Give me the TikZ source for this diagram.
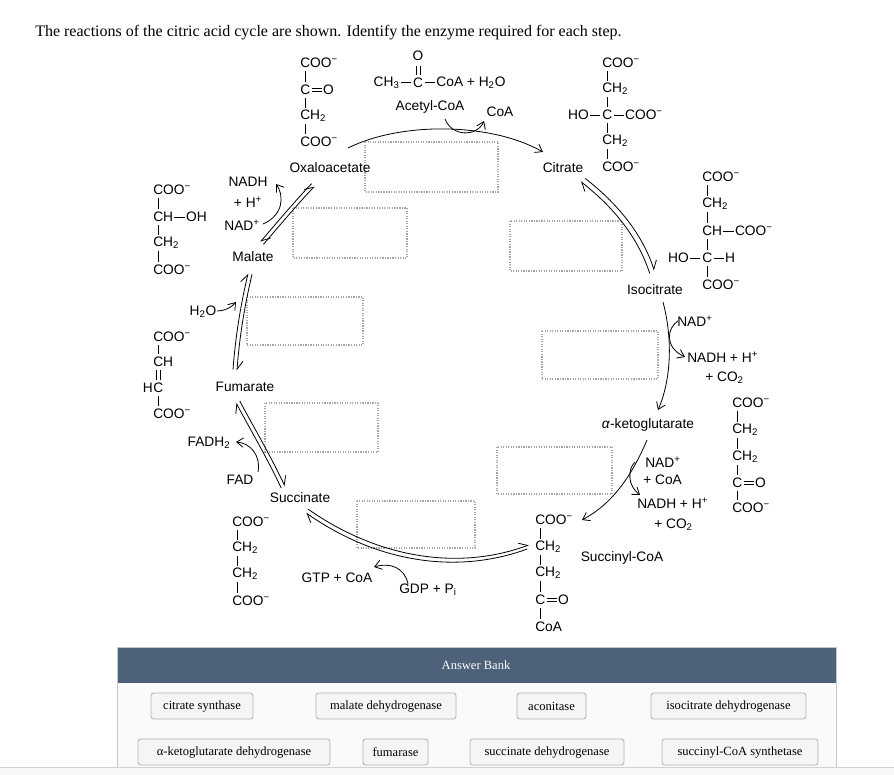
\documentclass[tikz,border=0pt]{standalone}
\usepackage{fontspec}
\setmainfont{Liberation Serif}
\newfontfamily\arialf{Liberation Sans}
\usetikzlibrary{arrows.meta}
\newcommand\hb{\kern1pt\rule[0.32em]{0.75em}{0.45pt}\kern1pt}
\newcommand\dbb{\kern1pt\rlap{\rule[0.22em]{0.75em}{0.45pt}}\rule[0.45em]{0.75em}{0.45pt}\kern1pt}
\newcommand\mn{\textsuperscript{−}}
\newcommand\vchain[2]{\foreach \a/\b in {#2} {\draw[bond] ({#1+5},{\a+8})--({#1+5},{\b-8});}}
\newcommand\eqpair[6]{%
  \draw[eqline,-{Straight Barb[left,length=6pt,width=8pt]},shift={(#5,#6)}] #1 .. controls #2 and #3 .. #4;
  \draw[eqline,{Straight Barb[left,length=6pt,width=8pt]}-,shift={(-#5,-#6)}] #1 .. controls #2 and #3 .. #4;}
\begin{document}
\begin{tikzpicture}[x=0.75pt,y=-0.75pt,
  chem/.style={font=\arialf\fontsize{10.3}{12}\selectfont, inner sep=0pt, anchor=west},
  lab/.style={font=\arialf\fontsize{10.3}{12}\selectfont, inner sep=0pt},
  bond/.style={line width=0.45pt},
  arr/.style={line width=0.6pt,-{Straight Barb[length=5pt,width=7pt]}},
  eqline/.style={line width=0.6pt},
  blank/.style={draw=gray!70, densely dotted, line width=0.9pt},
  btn/.style={draw=gray!60, rounded corners=2pt, fill=gray!8, line width=0.6pt},
  btnt/.style={font=\fontsize{9.4}{11}\selectfont, inner sep=0pt}]
\fill[white] (0,0) rectangle (894,775);
\useasboundingbox (0,0) rectangle (894,775);
\node[anchor=west, inner sep=0pt, font=\fontsize{12}{14}\selectfont] (title) at (35,33) {The reactions of the citric acid cycle are shown. Identify the enzyme required for each step.};
% blanks
\draw[blank] (365,142) rectangle (498,192);
\draw[blank] (293,208) rectangle (407,258);
\draw[blank] (247,297) rectangle (363,345);
\draw[blank] (265,403) rectangle (378,452);
\draw[blank] (357,501) rectangle (475,548);
\draw[blank] (497,447) rectangle (612,494);
\draw[blank] (542,331) rectangle (658,379);
\draw[blank] (510,221) rectangle (622,271);
% oxaloacetate
\node[chem] (o1) at (300,63) {COO\mn};
\node[chem] (o2) at (300,90) {C\dbb O};
\node[chem] (o3) at (300,116) {CH\textsubscript{2}};
\node[chem] (o4) at (300,142) {COO\mn};
\vchain{300}{63/90,90/116,116/142}
\node[lab] (oxa) at (330,168) {Oxaloacetate};
% acetyl-CoA
\node[lab] (acC) at (418,83) {C};
\node[chem,anchor=east] at (acC.west) {CH\textsubscript{3}\hb};
\node[chem] at (acC.east) {\hb CoA + H\textsubscript{2}O};
\draw[bond] (416.5,66) -- (416.5,75) (420,66) -- (420,75);
\node[lab] (acO) at (418,56) {O};
\node[lab] (acetyl) at (430,107) {Acetyl-CoA};
\node[lab] (coa1) at (500,112) {CoA};
\draw[arr] (445,119) .. controls (452,137) and (477,137) .. (484,121);
\draw[arr] (348,148) .. controls (400,122) and (490,122) .. (543,152);
% citrate
\node[chem] at (602,63) {COO\mn};
\node[chem] at (602,89) {CH\textsubscript{2}};
\node[chem] (cC) at (602,115) {C\hb COO\mn};
\node[chem,anchor=east] at (602,115) {HO\hb};
\node[chem] at (602,141) {CH\textsubscript{2}};
\node[chem] at (602,167) {COO\mn};
\vchain{602}{63/89,89/115,115/141,141/167}
\node[lab] (cit) at (563,168) {Citrate};
% isocitrate
\node[chem] at (702,177) {COO\mn};
\node[chem] at (702,204) {CH\textsubscript{2}};
\node[chem] at (702,231) {CH\hb COO\mn};
\node[chem] at (702,258) {C\hb H};
\node[chem,anchor=east] at (702,258) {HO\hb};
\node[chem] at (702,285) {COO\mn};
\vchain{702}{177/204,204/231,231/258,258/285}
\node[lab] (iso) at (655,290) {Isocitrate};
\eqpair{(583,180)}{(615,205)}{(640,235)}{(652,272)}{2.2}{-1.6}
% isocitrate -> akg
\draw[arr] (663,302) .. controls (673,340) and (671,380) .. (658,410);
\node[chem] at (677,321) {NAD\textsuperscript{+}};
\draw[arr] (678,321) .. controls (667,328) and (664,347) .. (685,357);
\node[chem] at (687,357) {NADH + H\textsuperscript{+}};
\node[chem] at (705,378) {+ CO\textsubscript{2}};
% akg
\node[lab] (akg) at (648,425) {\textit{α}-ketoglutarate};
\node[chem] at (732,403) {COO\mn};
\node[chem] at (732,430) {CH\textsubscript{2}};
\node[chem] at (732,457) {CH\textsubscript{2}};
\node[chem] at (732,483) {C\dbb O};
\node[chem] at (732,508) {COO\mn};
\vchain{732}{403/430,430/457,457/483,483/508}
\draw[arr] (647,440) .. controls (630,480) and (610,505) .. (582,520);
\node[chem] at (645,462) {NAD\textsuperscript{+}};
\node[chem] at (643,480) {+ CoA};
\draw[arr] (635,462) .. controls (627,470) and (628,486) .. (640,495);
\node[chem] at (637,503) {NADH + H\textsuperscript{+}};
\node[chem] at (654,525) {+ CO\textsubscript{2}};
% succinyl-CoA
\node[chem] at (535,520) {COO\mn};
\node[chem] at (535,547) {CH\textsubscript{2}};
\node[chem] at (535,573) {CH\textsubscript{2}};
\node[chem] at (535,600) {C\dbb O};
\node[chem] at (535,627) {CoA};
\vchain{535}{520/547,547/573,573/600,600/627}
\node[lab] (scoa) at (622,558) {Succinyl-CoA};
\eqpair{(307,511)}{(380,562)}{(460,572)}{(528,547)}{0.8}{-2}
\node[lab] (gtp) at (337,578) {GTP + CoA};
\node[lab] (gdp) at (428,590) {GDP + P\textsubscript{i}};
\draw[arr] (408,584) .. controls (405,568) and (390,562) .. (374,567);
% succinate
\node[lab] (suc) at (300,498) {Succinate};
\node[chem] at (232,522) {COO\mn};
\node[chem] at (232,548) {CH\textsubscript{2}};
\node[chem] at (232,574) {CH\textsubscript{2}};
\node[chem] at (232,601) {COO\mn};
\vchain{232}{522/548,548/574,574/601}
\eqpair{(283,487)}{(268,455)}{(250,425)}{(238,402)}{-1.8}{1}
\node[lab] (fadh) at (209,443) {FADH\textsubscript{2}};
\node[lab] (fad) at (240,480) {FAD};
\draw[arr] (258,472) .. controls (261,455) and (250,443) .. (236,442);
% fumarate
\node[lab] (fum) at (245,387) {Fumarate};
\node[chem] at (153,337) {COO\mn};
\node[chem] at (153,362) {CH};
\node[chem] at (153,388) {C};
\node[chem,anchor=east] at (153,388) {H};
\node[chem] at (153,414) {COO\mn};
\draw[bond] (156.5,370) -- (156.5,380) (160,370) -- (160,380);
\vchain{153}{337/362,388/414}
\eqpair{(250,274)}{(244,300)}{(238,330)}{(235,370)}{2}{0.3}
\node[lab] (h2o) at (203,312) {H\textsubscript{2}O};
\draw[arr] (217,311) .. controls (224,311) and (231,308) .. (236,302);
% malate
\node[lab] (mal) at (253,257) {Malate};
\node[chem] at (153,190) {COO\mn};
\node[chem] at (153,217) {CH\hb OH};
\node[chem] at (153,243) {CH\textsubscript{2}};
\node[chem] at (153,270) {COO\mn};
\vchain{153}{190/217,217/243,243/270}
\eqpair{(262,243)}{(280,222)}{(296,203)}{(313,185)}{1.5}{1.3}
\node[lab] (nadh1) at (248,182) {NADH};
\node[lab] (hp1) at (248,202) {+ H\textsuperscript{+}};
\node[lab] (nad1) at (242,225) {NAD\textsuperscript{+}};
\draw[arr] (263,224) .. controls (284,215) and (284,195) .. (276,184);
% answer bank
\fill[gray!6] (0,767) rectangle (894,775);
\draw[gray!35] (0,767) -- (894,767);
\fill[gray!4] (117,683) rectangle (836,767);
\fill[fill={rgb,255:red,77;green,97;blue,120}] (117,647) rectangle (836,683);
\draw[gray!45] (117,767) -- (117,647) -- (836,647) -- (836,767);
\node[font=\fontsize{9.4}{11}\selectfont, text=white, inner sep=0pt] (ab) at (476,665) {Answer Bank};
\foreach \xa/\xb/\yy/\t in {151/253/706/citrate synthase, 316/456/706/malate dehydrogenase, 517/586/706/aconitase, 651/806/706/isocitrate dehydrogenase, 138/330/752/α-ketoglutarate dehydrogenase, 363/428/752/fumarase, 470/624/752/succinate dehydrogenase, 662/818/752/succinyl-CoA synthetase}{
  \draw[btn] (\xa,\yy-13) rectangle (\xb,\yy+13);
  \node[btnt] at ({(\xa+\xb)/2},\yy) {\t};
}
\end{tikzpicture}
\end{document}
